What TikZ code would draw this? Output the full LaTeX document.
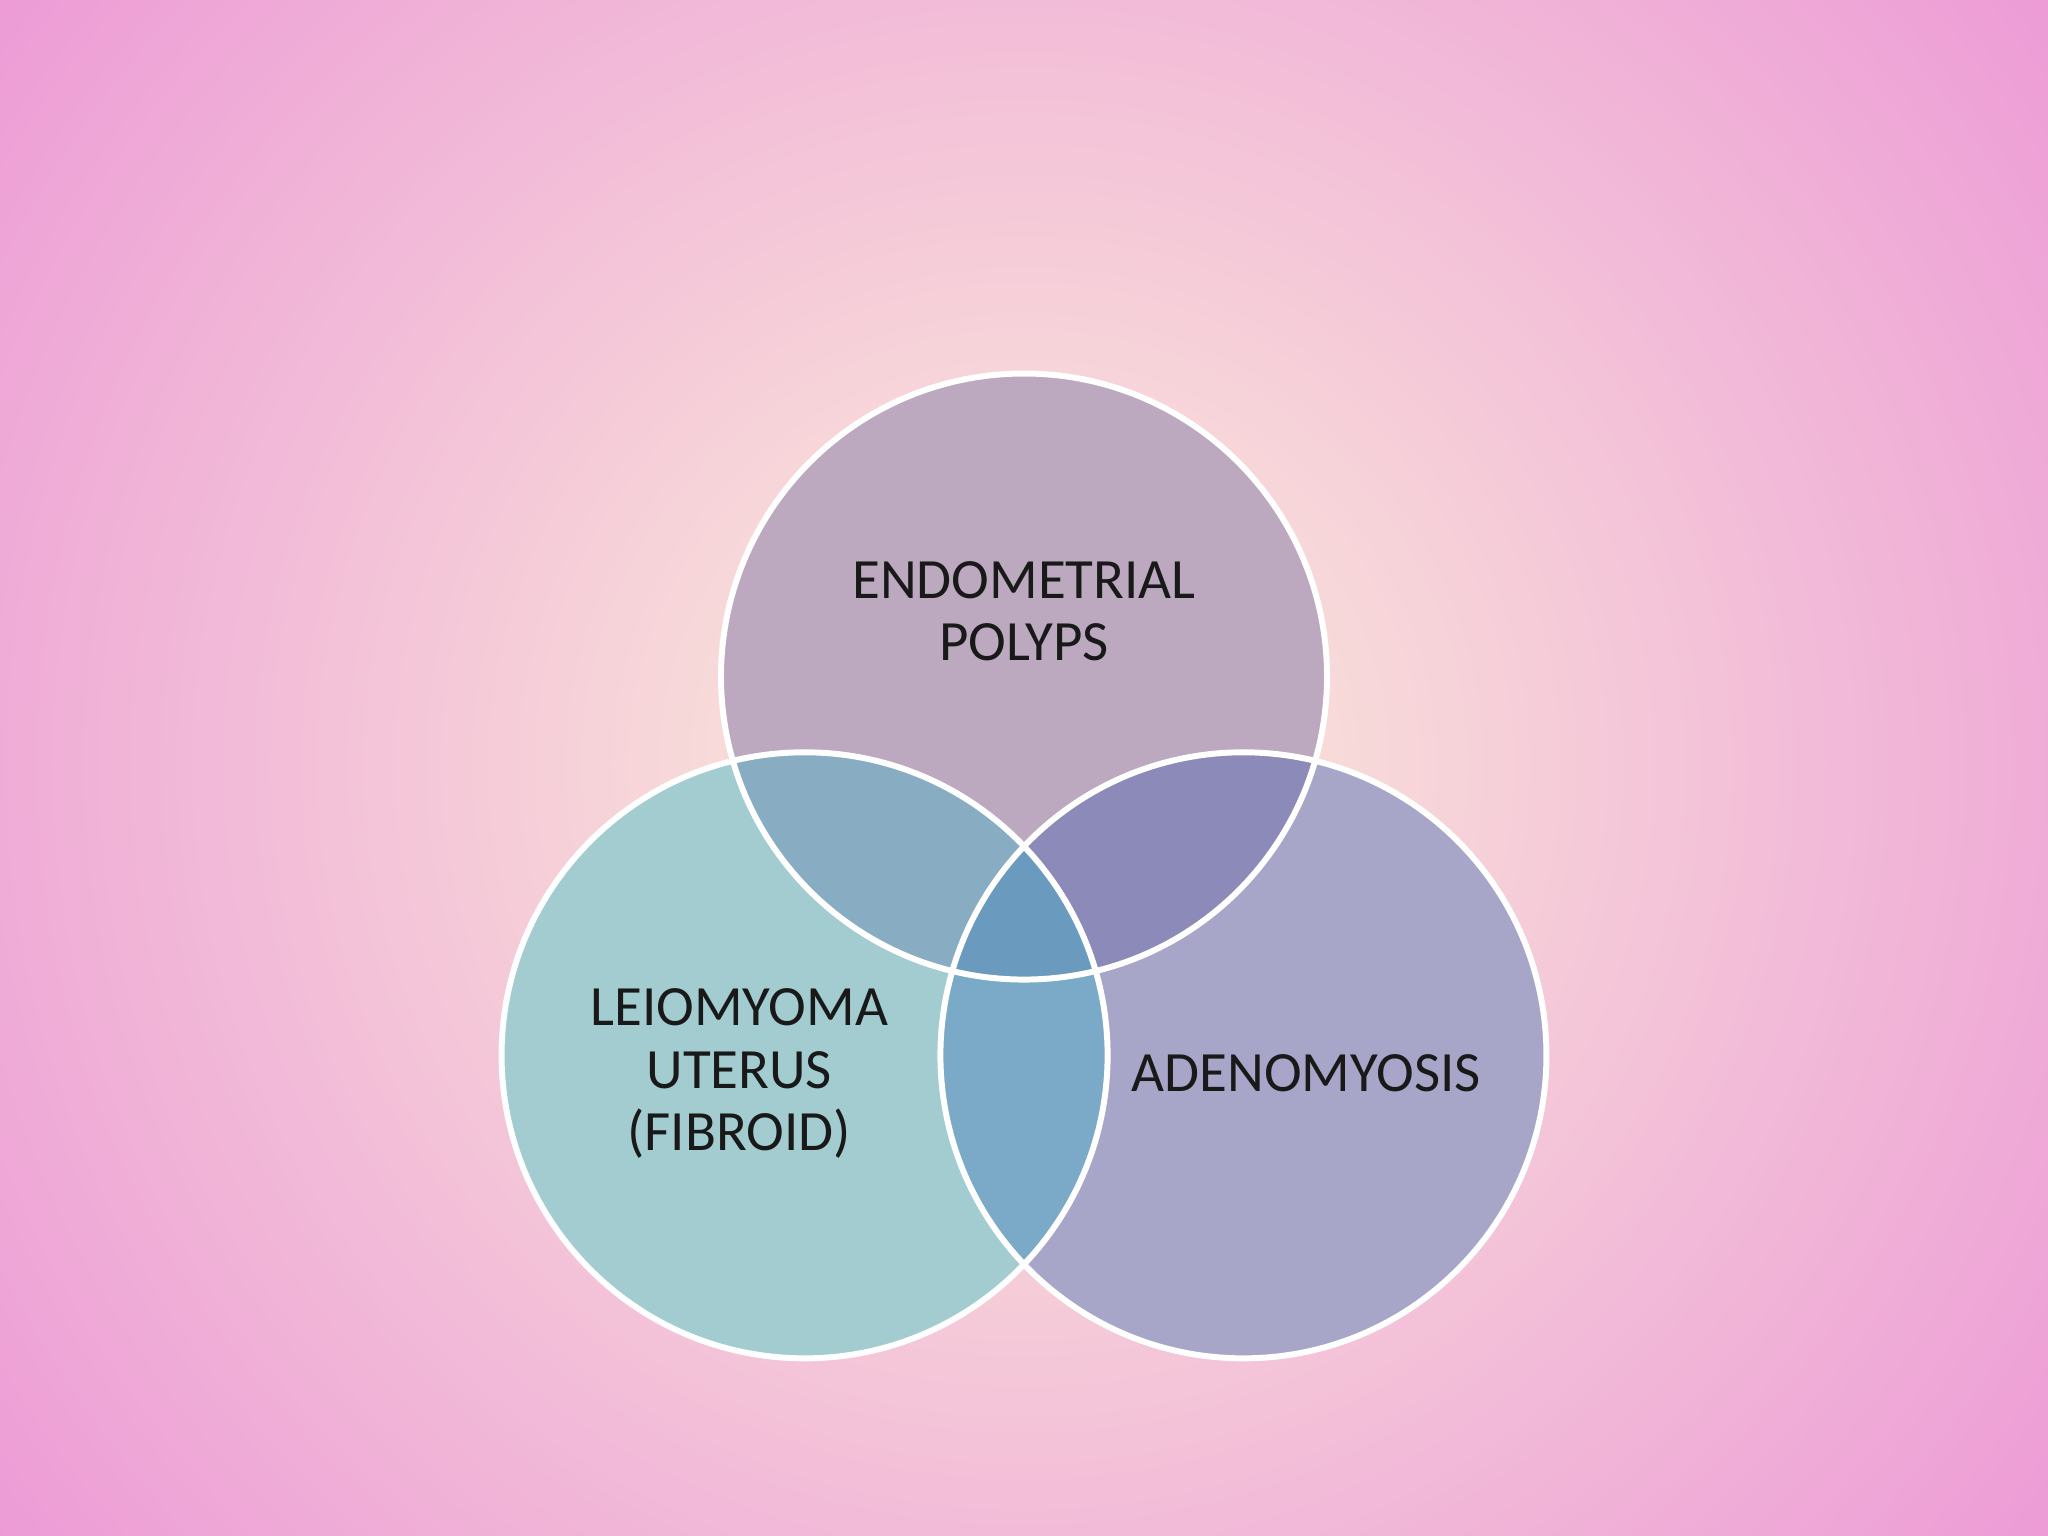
\documentclass[tikz,border=0pt]{standalone}
\usepackage{fontspec}
\setmainfont{Carlito}
\begin{document}
\begin{tikzpicture}
\useasboundingbox (0,0) rectangle (15.68,11.76);
\definecolor{bgin}{HTML}{FBEEDA}
\definecolor{bgmid}{HTML}{F3C6DA}
\definecolor{bgout}{HTML}{EC98D6}
\definecolor{ctop}{HTML}{BCA9C0}
\definecolor{cleft}{HTML}{A3CCD0}
\definecolor{cright}{HTML}{A8A6C8}
\definecolor{ctl}{HTML}{88ADC3}
\definecolor{ctr}{HTML}{8C8AB9}
\definecolor{clr}{HTML}{7AAAC8}
\definecolor{call}{HTML}{6A9BBF}
\shade[inner color=bgin, middle color=bgmid, outer color=bgout] (-2.4,-4.2) rectangle (18.08,16.0);
\tikzset{ring/.style={draw=white, line width=1.3pt},
  lbl/.style={font=\fontsize{12.4}{13.6}\selectfont, align=center, text=black!90}}
\def\ctop{(7.84,6.58) circle (2.32)}
\def\cleft{(6.16,3.68) circle (2.32)}
\def\cright{(9.52,3.68) circle (2.32)}
\fill[ctop] \ctop;
\fill[cleft] \cleft;
\fill[cright] \cright;
\begin{scope}\clip \ctop; \fill[ctl] \cleft; \fill[ctr] \cright; \end{scope}
\begin{scope}\clip \cleft; \fill[clr] \cright; \end{scope}
\begin{scope}\clip \ctop; \clip \cleft; \fill[call] \cright; \end{scope}
\draw[ring] \ctop;
\draw[ring] \cleft;
\draw[ring] \cright;
\node[lbl] (a) at (7.84,7.08) {ENDOMETRIAL\\POLYPS};
\node[lbl] (b) at (5.66,3.54) {LEIOMYOMA\\UTERUS\\(FIBROID)};
\node[lbl] (c) at (10.0,3.54) {ADENOMYOSIS};
\end{tikzpicture}
\end{document}
